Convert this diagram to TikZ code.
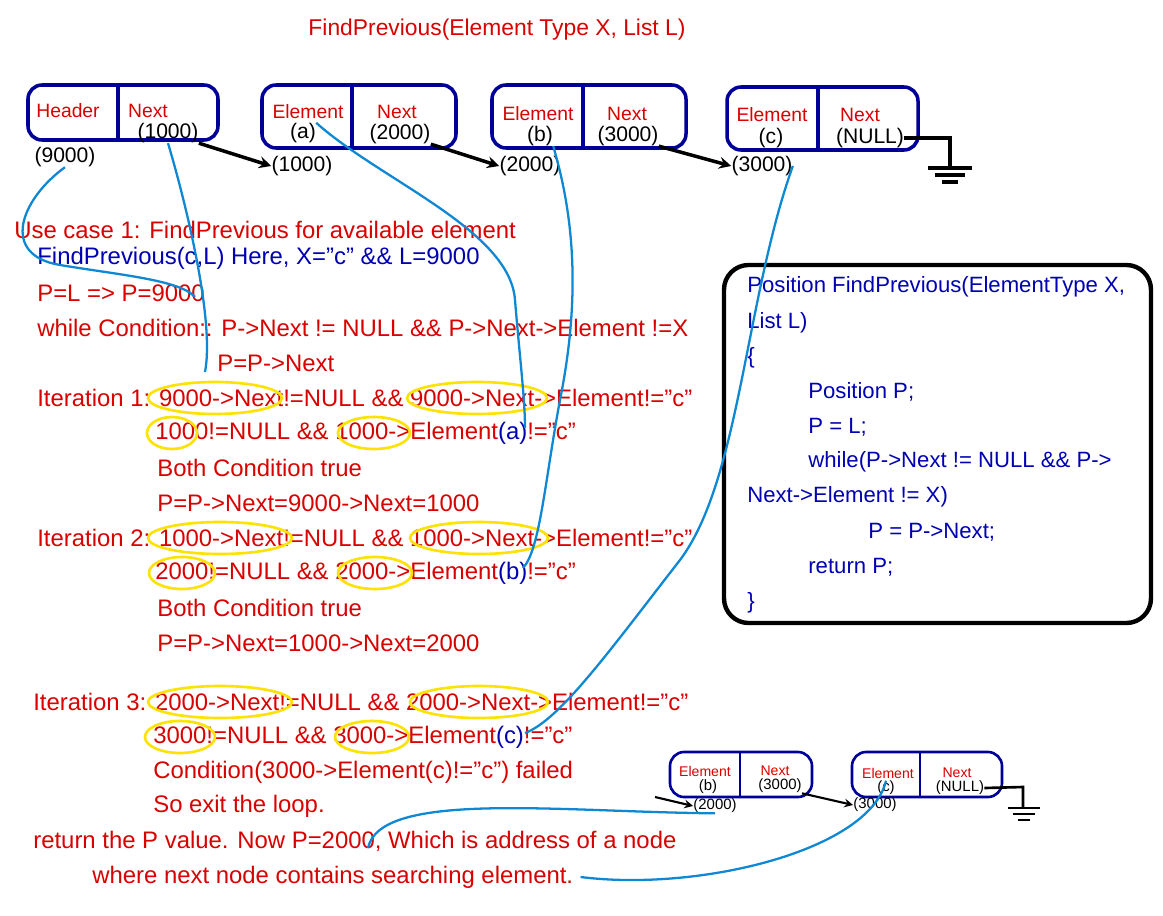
\documentclass[tikz,border=0pt]{standalone}
\usepackage{fontspec}
\setmainfont{Liberation Sans}
\begin{document}
\begin{tikzpicture}[x=0.02cm,y=-0.02cm,
 rt/.style={text=red!85!black,anchor=west,inner sep=0,font=\fontsize{13.6}{15}\selectfont},
 bt/.style={rt,text=blue!70!black},
 bx/.style={bt,font=\fontsize{12.6}{14}\selectfont},
 kt/.style={text=black,inner sep=0,font=\fontsize{12}{13}\selectfont},
 st/.style={text=red!85!black,inner sep=0,font=\fontsize{11}{12}\selectfont},
 tt/.style={st,font=\fontsize{8}{9}\selectfont},
 tk/.style={kt,font=\fontsize{8.5}{9}\selectfont},
 box/.style={draw=blue!60!black,line width=2pt,rounded corners=8pt},
 arr/.style={line width=2pt,-stealth},
 lnk/.style={draw=cyan!70!blue,line width=1.3pt},
 yel/.style={draw=yellow!85!orange,line width=1.5pt}]
\useasboundingbox (0,0) rectangle (1163,916);
\fill[white] (0,0) rectangle (1163,916);
\node[st,font=\fontsize{13}{14}\selectfont] (title) at (497,30) {FindPrevious(Element Type X, List L)};
% top boxes
\draw[box] (28,85) rectangle (218,140); \draw[blue!60!black,line width=2pt] (118,85)--(118,140);
\draw[box] (262,85) rectangle (456,148); \draw[blue!60!black,line width=2pt] (352,85)--(352,148);
\draw[box] (492,85) rectangle (686,148); \draw[blue!60!black,line width=2pt] (583,85)--(583,148);
\draw[box] (727,87) rectangle (918,150); \draw[blue!60!black,line width=2pt] (818,87)--(818,150);
\node[st] (h) at (68,111) {Header}; \node[st] (n1) at (148,111) {Next};
\node[kt] (v1) at (168,133) {(1000)}; \node[kt] (a9) at (65,157) {(9000)};
\node[st] (e2) at (308,112) {Element}; \node[kt] (ea) at (303,133) {(a)};
\node[st] (n2) at (397,112) {Next}; \node[kt] (v2) at (400,134) {(2000)};
\node[st] (e3) at (538,114) {Element}; \node[kt] (eb) at (540,136) {(b)};
\node[st] (n3) at (627,114) {Next}; \node[kt] (v3) at (628,136) {(3000)};
\node[st] (e4) at (772,115) {Element}; \node[kt] (ec) at (771,138) {(c)};
\node[st] (n4) at (860,115) {Next}; \node[kt] (v4) at (870,138) {(NULL)};
\node[kt] (a1) at (302,166) {(1000)}; \node[kt] (a2) at (530,166) {(2000)}; \node[kt] (a3) at (762,166) {(3000)};
\draw[arr] (v1.south east) -- (a1.west);
\draw[arr] (v2.south east) -- (a2.west);
\draw[arr] (v3.south east) -- (a3.west);
\coordinate (g1) at (950,138);
\draw[line width=2pt] (v4.east) -- (g1) -- (950,168);
\draw[line width=2pt] (928,168)--(972,168) (935,175)--(965,175) (942,182)--(958,182);
% right box
\draw[line width=2.5pt,rounded corners=14pt] (724,265) rectangle (1151,623);
\node[bx] (r1) at (747,287) {Position FindPrevious(ElementType X,};
\node[bx] (r2) at (747,323) {List L)};
\node[bx] (r3) at (747,358) {\{};
\node[bx] (r4) at (808,392) {Position P;};
\node[bx] (r5) at (808,427) {P = L;};
\node[bx] (r6) at (808,462) {while(P->Next != NULL \&\& P->};
\node[bx] (r7) at (747,497) {Next->Element != X)};
\node[bx] (r8) at (868,532) {P = P->Next;};
\node[bx] (r9) at (808,567) {return P;};
\node[bx] (r10) at (747,603) {\}};
% left text
\node[rt] (t1) at (14,230) {Use case 1: FindPrevious for available element};
\node[bt] (t2) at (37,258) {FindPrevious(c,L) Here, X="c" \&\& L=9000};
\node[rt] (t3) at (37,293) {P=L => P=9000};
\node[rt] (t4) at (37,328) {while Condition:: P->Next != NULL \&\& P->Next->Element !=X};
\node[rt] (t5) at (217,363) {P=P->Next};
\node[rt] (t6) at (37,398) {Iteration 1: 9000->Next!=NULL \&\& 9000->Next->Element!="c"};
\node[rt] (t7) at (155,433) {1000!=NULL \&\& 1000->Element\textcolor{blue!70!black}{(a)}!="c"};
\node[rt] (t8) at (157,468) {Both Condition true};
\node[rt] (t9) at (157,503) {P=P->Next=9000->Next=1000};
\node[rt] (t10) at (37,538) {Iteration 2: 1000->Next!=NULL \&\& 1000->Next->Element!="c"};
\node[rt] (t11) at (155,573) {2000!=NULL \&\& 2000->Element\textcolor{blue!70!black}{(b)}!="c"};
\node[rt] (t12) at (157,608) {Both Condition true};
\node[rt] (t13) at (157,643) {P=P->Next=1000->Next=2000};
\node[rt] (t14) at (33,702) {Iteration 3: 2000->Next!=NULL \&\& 2000->Next->Element!="c"};
\node[rt] (t15) at (153,737) {3000!=NULL \&\& 3000->Element\textcolor{blue!70!black}{(c)}!="c"};
\node[rt] (t16) at (153,772) {Condition(3000->Element(c)!="c") failed};
\node[rt] (t17) at (153,806) {So exit the loop.};
\node[rt] (t18) at (33,841) {return the P value. Now P=2000, Which is address of a node};
\node[rt] (t19) at (92,877) {where next node contains searching element.};
% yellow ellipses
\foreach \cx/\cy/\rx in {215/398/67, 477/398/70, 172/433/25, 374/433/36,
 220/538/72, 479/538/69, 182/573/33, 375/573/37,
 220/702/72, 479/702/69, 180/737/35, 372/737/37}
 \draw[yel] (\cx,\cy) ellipse [x radius=\rx,y radius=16];
% bottom boxes
\draw[box,line width=1.5pt] (670,752) rectangle (812,797); \draw[blue!60!black,line width=1.5pt] (740,752)--(740,797);
\draw[box,line width=1.5pt] (852,752) rectangle (1002,797); \draw[blue!60!black,line width=1.5pt] (920,752)--(920,797);
\node[tt] (s1) at (705,771) {Element}; \node[tt] (s2) at (775,771) {Next};
\node[tk] (s3) at (708,787) {(b)}; \node[tk] (s4) at (780,786) {(3000)};
\node[tk] (s5) at (715,806) {(2000)};
\node[tt] (s6) at (888,773) {Element}; \node[tt] (s7) at (957,773) {Next};
\node[tk] (s8) at (886,788) {(c)}; \node[tk] (s9) at (960,788) {(NULL)};
\node[tk] (s10) at (875,805) {(3000)};
\coordinate (sa) at (655,797);
\draw[line width=1.2pt,-stealth] (sa) -- (s5.west);
\draw[line width=1.2pt,-stealth] (s4.south east) -- (s10.west);
\coordinate (g2) at (1023,787);
\draw[line width=1.5pt] (s9.east) -- (g2) -- (1023,808);
\draw[line width=1.5pt] (1008,808)--(1040,808) (1013,814)--(1035,814) (1018,820)--(1030,820);
% blue links
\coordinate (p9) at (195,297);
\draw[lnk] (a9.south) .. controls (20,200) and (0,255) .. (60,265) .. controls (120,275) and (180,280) .. (p9);
\coordinate (pn) at (205,372);
\draw[lnk] (v1.south) .. controls (185,200) and (215,320) .. (pn);
\coordinate (la) at (525,428);
\draw[lnk] (ea.north east) .. controls (380,180) and (510,230) .. (515,300) .. controls (520,360) and (525,400) .. (la);
\coordinate (lb) at (523,568);
\draw[lnk] (eb.south east) .. controls (575,220) and (580,300) .. (560,400) .. controls (545,480) and (540,550) .. (lb);
\coordinate (lc) at (525,733);
\draw[lnk] (a3.east) .. controls (745,300) and (740,480) .. (680,560) .. controls (610,650) and (560,720) .. (lc);
\coordinate (p2) at (368,848);
\draw[lnk] (p2) .. controls (380,790) and (560,812) .. (s5.south);
\draw[lnk] ([xshift=4pt]t19.east) .. controls (700,892) and (870,850) .. (s8.north);
\end{tikzpicture}
\end{document}
